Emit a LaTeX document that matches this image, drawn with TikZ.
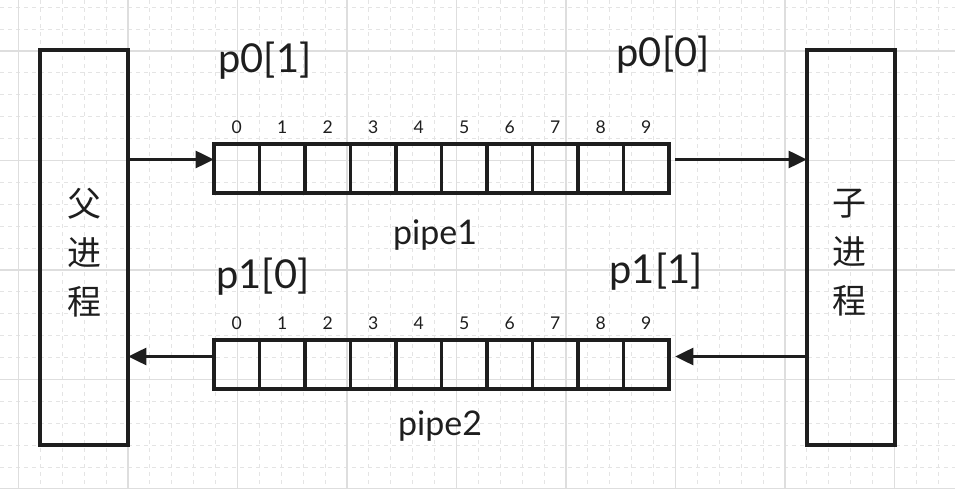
\documentclass[tikz,border=0pt]{standalone}
\usepackage{fontspec}
\setmainfont{Lato}
\newfontfamily\cjkfont{Noto Sans CJK SC}
\usetikzlibrary{arrows.meta,positioning,calc}
\definecolor{ink}{RGB}{30,30,30}
\definecolor{gridmajor}{RGB}{222,222,222}
\definecolor{gridminor}{RGB}{228,228,228}

\begin{document}
\begin{tikzpicture}[x=0.03cm, y=-0.03cm,
  major/.style={draw=gridmajor, line width=0.045cm},
  minor/.style={draw=gridminor, line width=0.03cm, dash pattern=on 0.12cm off 0.12cm},
  proc/.style={draw=ink, line width=0.1cm, minimum width=2.64cm, minimum height=11.85cm, inner sep=0pt, outer sep=0pt},
  procname/.style={text=ink, align=center, font=\cjkfont\fontsize{29}{42}\selectfont},
  cell/.style={draw=ink, line width=0.11cm, minimum width=1.365cm, minimum height=1.47cm, inner sep=0pt, outer sep=0pt},
  idx/.style={font=\fontsize{15}{15}\selectfont, text=ink, anchor=base, inner sep=0pt},
  lbl/.style={font=\fontsize{34}{34}\selectfont, text=ink, anchor=base, inner sep=0pt},
  pipelbl/.style={font=\fontsize{29}{29}\selectfont, text=ink, anchor=base, inner sep=0pt},
  arr/.style={-{Triangle[length=0.55cm,width=0.5cm]}, draw=ink, line width=0.11cm}]
\useasboundingbox (0,0) rectangle (955,489);
% background grid
\foreach \k in {0,...,42} \draw[minor] ({18.5+21.9*\k},0) -- ++(0,489);
\foreach \k in {-2,...,20} \draw[minor] (0,{51+21.9*\k}) -- ++(955,0);
\foreach \k in {0,...,8} \draw[major] ({18.5+109.5*\k},0) -- ++(0,489);
\foreach \k in {0,...,4} \draw[major] (0,{51+109.5*\k}) -- ++(955,0);

% processes
\node[proc] (parent) at (84,247.5) {};
\node[proc] (child) at (851,247.5) {};
\node[procname] (pname) at ($(parent.center)+(0,5)$) {父\\进\\程};
\node[procname] (cname) at ($(child.center)+(-2,5)$) {子\\进\\程};

% the two pipes
\foreach \i in {0,...,9} {
  \node[cell] (a\i) at ({236.75+45.5*\i},168.5) {};
  \node[idx] at ([yshift=0.3cm]a\i.north) {\i};
  \node[cell] (b\i) at ({236.75+45.5*\i},364.5) {};
  \node[idx] at ([yshift=0.3cm]b\i.north) {\i};
}
\node[lbl] (w0) at (265,73) {p0[1]};
\node[lbl] (r0) at (663,67) {p0[0]};
\node[pipelbl] (pipe1) at (435,245) {pipe1};
\node[lbl] (r1) at (263,289) {p1[0]};
\node[lbl] (w1) at (656,284) {p1[1]};
\node[pipelbl] (pipe2) at (440,435) {pipe2};

\draw[arr] ($(parent.east |- a0.west)+(0,-9)$) -- ($(a0.west)+(0,-9)$);
\draw[arr] ($(a9.east)+(6,-9)$) -- ($(child.west |- a9.east)+(0,-9)$);
\draw[arr] ($(child.west |- b9.east)+(0,-8)$) -- ($(b9.east)+(6,-8)$);
\draw[arr] ($(b0.west)+(0,-8)$) -- ($(parent.east |- b0.west)+(0,-8)$);
\end{tikzpicture}
\end{document}
